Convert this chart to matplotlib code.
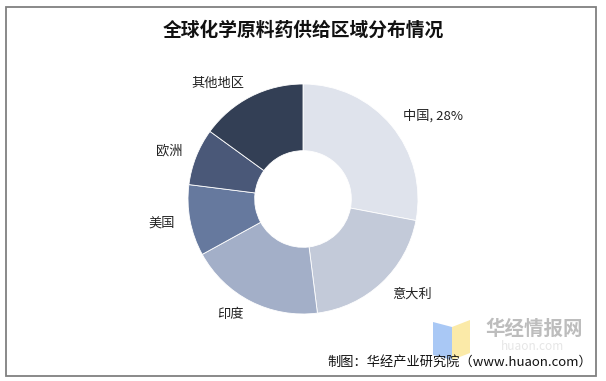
import matplotlib
matplotlib.use("Agg")
import matplotlib.pyplot as plt
from matplotlib.patches import Rectangle, Polygon

plt.rcParams['font.family'] = ['Noto Sans CJK SC', 'DejaVu Sans']

title = "全球化学原料药供给区域分布情况"
categories = ["中国", "意大利", "印度", "美国", "欧洲", "其他地区"]
values = [28, 20, 19, 10, 8, 15]
colors = ["#DFE3EC", "#C3CAD9", "#A3AFC8", "#66799E", "#4A5878", "#333F55"]
labels = ["中国, 28%", "意大利", "印度", "美国", "欧洲", "其他地区"]
source = "制图：华经产业研究院（www.huaon.com）"

W, H = 606, 381
fig = plt.figure(figsize=(W / 100, H / 100), dpi=100)
fig.patch.set_facecolor("white")

# outer frame
fig.add_artist(Rectangle((6 / W, 1 - 376 / H), (596 - 6) / W, (376 - 7) / H,
                         transform=fig.transFigure, fill=False,
                         edgecolor="#808080", linewidth=1.3))

cx, cy, r = 303, 199, 115
ax = fig.add_axes([(cx - r) / W, (H - cy - r) / H, 2 * r / W, 2 * r / H])

wedges, texts = ax.pie(values, labels=labels, colors=colors, startangle=90,
                       counterclock=False, radius=1, labeldistance=1.13,
                       wedgeprops=dict(width=0.58, edgecolor="white", linewidth=0.6),
                       textprops=dict(fontsize=9.5, color="#222222"))
ax.set_xlim(-1, 1)
ax.set_ylim(-1, 1)
ax.set_aspect("equal")
ax.axis("off")

fig.text(0.5, 1 - 30 / H, title, ha="center", va="center", fontsize=13.5,
         fontweight="bold", color="#111111")

# watermark logo
fig.add_artist(Polygon([(433 / W, 1 - 322 / H), (452 / W, 1 - 327 / H),
                        (452 / W, 1 - 360 / H), (433 / W, 1 - 355 / H)],
                       transform=fig.transFigure, facecolor="#A9C8F5", edgecolor="none"))
fig.add_artist(Polygon([(452 / W, 1 - 327 / H), (470 / W, 1 - 320 / H),
                        (470 / W, 1 - 353 / H), (452 / W, 1 - 360 / H)],
                       transform=fig.transFigure, facecolor="#FBEAA8", edgecolor="none"))
fig.text(534 / W, 1 - 329 / H, "华经情报网", ha="center", va="center", fontsize=14,
         fontweight="bold", color="#BDBDBD")
fig.text(533 / W, 1 - 347 / H, "huaon.com", ha="center", va="center", fontsize=8.5,
         color="#E6E6E6")

fig.text(592 / W, 1 - 362 / H, source, ha="right", va="center", fontsize=9.5,
         color="#111111")

fig.savefig("out.png", dpi=100)
